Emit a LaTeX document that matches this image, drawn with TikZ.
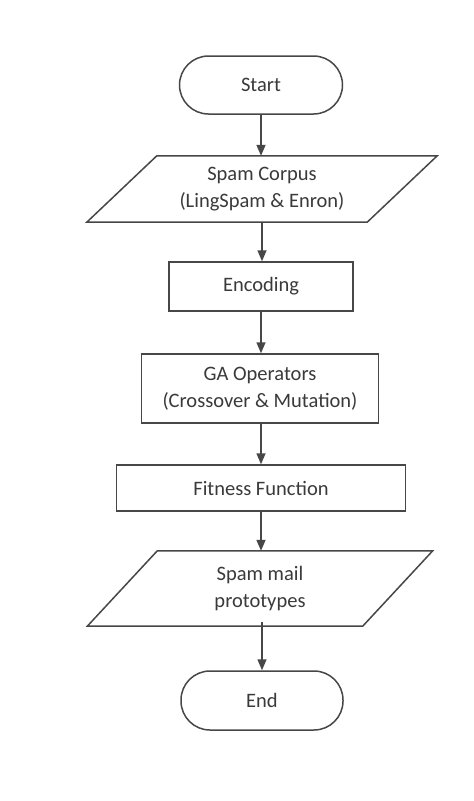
\documentclass[tikz,border=0pt]{standalone}
\usepackage{fontspec}
\setmainfont{Carlito}
\usetikzlibrary{arrows.meta}
\definecolor{linec}{HTML}{474747}
\definecolor{textc}{HTML}{3A3A3A}
\begin{document}
\begin{tikzpicture}[x=1pt,y=-1pt,
  every node/.style={font=\fontsize{20.5}{27}\selectfont, text=textc, align=center, inner sep=0pt},
  term/.style={draw=linec, line width=1.5pt, rounded corners=29pt, minimum height=58pt},
  procbox/.style={draw=linec, line width=1.5pt},
  ioshape/.style={draw=none},
  para/.style={draw=linec, line width=1.5pt, line join=miter},
  flow/.style={draw=linec, line width=1.5pt, -{Triangle[width=9pt,length=11pt]}}]
\useasboundingbox (0,0) rectangle (474,801);
\fill[white] (0,0) rectangle (474,801);
\node[term, minimum width=163pt] (start) at (261,85) {Start};
\node[ioshape, minimum width=280pt, minimum height=66pt] (corpus) at (262,189) {Spam Corpus\\(LingSpam \& Enron)};
\node[procbox, minimum width=184pt, minimum height=49pt] (enc) at (261,286.5) {Encoding};
\node[procbox, minimum width=237pt, minimum height=69pt] (ga) at (260,388.5) {GA Operators\\(Crossover \& Mutation)};
\node[procbox, minimum width=289pt, minimum height=46pt] (fit) at (261,488) {Fitness Function};
\node[ioshape, minimum width=275pt, minimum height=75pt] (spam) at (260,588.5) {Spam mail\\prototypes};
\node[term, minimum width=162pt, minimum height=59pt] (end) at (262,700.5) {End};
\draw[para] ([xshift=35pt]corpus.north west) -- ([xshift=35pt]corpus.north east) -- ([xshift=-35pt]corpus.south east) -- ([xshift=-35pt]corpus.south west) -- cycle;
\draw[para] ([xshift=35pt]spam.north west) -- ([xshift=35pt]spam.north east) -- ([xshift=-35pt]spam.south east) -- ([xshift=-35pt]spam.south west) -- cycle;
\draw[flow] (start.south) -- (start.south |- corpus.north);
\draw[flow] (corpus.south) -- (corpus.south |- enc.north);
\draw[flow] (enc.south) -- (enc.south |- ga.north);
\draw[flow] (ga.south -| enc.south) -- (enc.south |- fit.north);
\draw[flow] (fit.south) -- (fit.south |- spam.north);
\draw[flow] ([yshift=4pt]spam.south -| end.north) -- (end.north);
\end{tikzpicture}
\end{document}
